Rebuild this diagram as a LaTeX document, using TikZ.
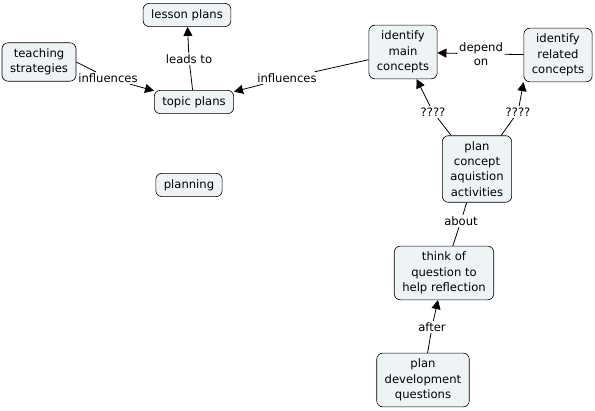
\documentclass[tikz,border=0pt]{standalone}
\usepackage{fontspec}
\setmainfont{DejaVu Sans}
\usetikzlibrary{positioning,arrows.meta}
\definecolor{cmapfill}{RGB}{238,243,246}

\begin{document}
\begin{tikzpicture}[x=1pt, y=1pt,
    concept/.style={rectangle, rounded corners=6pt, draw, line width=0.6pt, fill=cmapfill, align=center, inner xsep=8pt, inner ysep=6pt, font=\fontsize{11.6}{15.2}\selectfont},
    phrase/.style={inner sep=1.5pt, align=center, font=\fontsize{11.6}{13.5}\selectfont},
    link/.style={line width=0.8pt},
    linkto/.style={line width=0.8pt, -{Triangle[length=9pt, width=9pt]}}]
        \useasboundingbox (0,0) rectangle (595,411);

        %% Planning side
        \node[concept] (lesson) at (187,396) {lesson plans};
        \node[concept] (teach) at (39,349) {teaching\\strategies};
        \node[concept] (topic) at (194,309) {topic plans};
        \node[concept] (planning) at (189,226) {planning};

        \node[phrase] (leads) at (189,352) {leads to};
        \node[phrase] (infl1) at (108,333) {influences};

        \draw[link] (topic) -- (leads);
        \draw[linkto] (leads) -- (lesson);
        \draw[link] (teach.east) -- (infl1);
        \draw[linkto] (infl1) -- (topic);

        %% Concepts side
        \node[concept] (mainc) at (403,359) {identify\\main\\concepts};
        \node[concept] (relc) at (558,356) {identify\\related\\concepts};
        \node[concept] (acqu) at (477,242) {plan\\concept\\aquistion\\activities};
        \node[concept] (think) at (444,138) {think of\\question to\\help reflection};
        \node[concept] (devq) at (423,31) {plan\\development\\questions};

        \node[phrase] (infl2) at (287,333) {influences};
        \node[phrase] (depend) at (481,357) {depend\\on};
        \node[phrase] (q1) at (433,299) {????};
        \node[phrase] (q2) at (518,299) {????};
        \node[phrase] (about) at (461,190) {about};
        \node[phrase] (after) at (432,84) {after};

        \draw[link] (mainc) -- (infl2);
        \draw[linkto] (infl2) -- (topic);
        \draw[link] (relc) -- (depend);
        \draw[linkto] (depend) -- (mainc);
        \draw[link] (acqu) -- (q1);
        \draw[linkto] (q1) -- (mainc);
        \draw[link] (acqu) -- (q2);
        \draw[linkto] (q2) -- (relc.south west);
        \draw[link] (acqu) -- (about);
        \draw[link] (about) -- (think);
        \draw[link] (devq) -- (after);
        \draw[linkto] (after) -- (think);
\end{tikzpicture}
\end{document}
